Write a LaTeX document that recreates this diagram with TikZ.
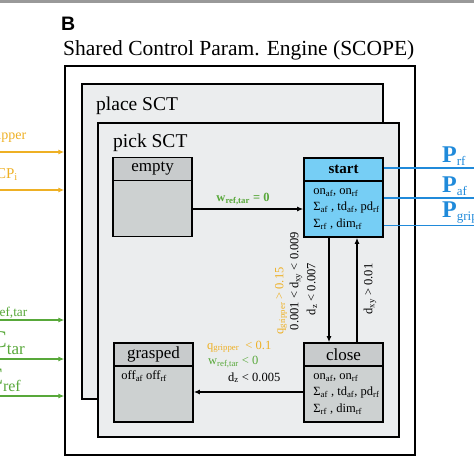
\documentclass[tikz,border=0pt]{standalone}
\usepackage{fontspec}
\setmainfont{Liberation Serif}
\newfontfamily\panelfont{Liberation Sans}
\usetikzlibrary{calc,arrows.meta,positioning}
\definecolor{ylw}{RGB}{238,176,36}
\definecolor{grn}{RGB}{88,168,58}
\definecolor{blu}{RGB}{32,138,218}
\definecolor{skyfill}{RGB}{118,206,245}
\definecolor{sctfill}{RGB}{235,237,238}
\definecolor{statefill}{RGB}{205,209,209}
\definecolor{headfill}{RGB}{200,203,204}
\newcommand{\sub}[1]{\textsubscript{#1}}
\newcommand{\lowsub}[3]{\raisebox{-#1}{\fontsize{#2}{#2}\selectfont #3}}
\newcommand{\fs}[1]{\fontsize{#1}{#1}\selectfont}

\begin{document}
\begin{tikzpicture}[x=1pt,y=-1pt,
    box/.style={draw,line width=1.3pt,inner sep=0pt},
    statebox/.style={draw,line width=1.6pt,fill=statefill,minimum width=79pt,minimum height=79pt,inner sep=0pt},
    headbox/.style={draw,line width=1.6pt,fill=headfill,minimum width=79pt,minimum height=23pt,inner sep=0pt,anchor=north,font=\fs{17}},
    bodytext/.style={anchor=base west,inner sep=0pt,font=\fs{12.5}},
    lab/.style={inner sep=0pt,font=\fs{12.5}},
    arr/.style={-{Latex[length=6pt,width=5pt]},line width=1.1pt},
    inarr/.style={-{Latex[length=6pt,width=5pt]},line width=1.3pt},
    outline/.style={line width=1.3pt,draw=blu}]
  \useasboundingbox (0,0) rectangle (474,474);
  \clip (0,0) rectangle (474,474);
  \fill[gray!80] (0,0) rectangle (474,2.5);

  \node[anchor=base west,inner sep=0pt,font=\panelfont\bfseries\fs{19.5}] (panel) at (61,30.7) {B};
  \node[anchor=base west,inner sep=0pt,font=\fs{21.5}] (title) at (63,55) {Shared Control Param. Engine (SCOPE)};

  % nested tables
  \node[box,fill=white,minimum width=350pt,minimum height=389pt] (scope) at (240,260.5) {};
  \node[box,fill=sctfill,minimum width=301pt,minimum height=315pt] (place) at (232.5,241.5) {};
  \node[anchor=base west,inner sep=0pt,font=\fs{19.5}] (placelbl) at (96,110) {place SCT};
  \node[box,fill=sctfill,minimum width=301pt,minimum height=314pt] (pick) at (248.5,280) {};
  \node[anchor=base west,inner sep=0pt,font=\fs{19.5}] (picklbl) at (113,147) {pick SCT};

  % states
  \node[statebox] (empty) at (152.5,197) {};
  \node[headbox] (emptyhd) at (empty.north) {empty};
  \node[statebox,fill=skyfill] (start) at (343.5,197.5) {};
  \node[headbox,fill=skyfill,font=\bfseries\fs{15}] (starthd) at (start.north) {start};
  \node[statebox] (grasped) at (153.5,382.5) {};
  \node[headbox] (graspedhd) at (grasped.north) {grasped};
  \node[statebox] (close) at (343.5,382.5) {};
  \node[headbox] (closehd) at (close.north) {close};

  \foreach \b in {start,close}
    \foreach \r/\txt in {0/{on\sub{af}, on\sub{rf}},1/{Σ\sub{af} , td\sub{af}, pd\sub{rf}},2/{Σ\sub{rf} , dim\sub{rf}}}
      \node[bodytext] (\b row\r) at ($(\b.north west)+(10,37+16.5*\r)$) {\txt};
  \node[bodytext] (graspedrow0) at ($(grasped.north west)+(8,37)$) {off\sub{af} off\sub{rf}};

  % transitions
  \draw[arr] ($(empty.east)+(0,12)$) -- ($(start.west)+(0,11.5)$);
  \draw[arr] ($(start.south)+(-14.5,0)$) -- ($(close.north)+(-14.5,0)$);
  \draw[arr] ($(close.north)+(13.5,0)$) -- ($(start.south)+(13.5,0)$);
  \draw[arr] ($(close.west)+(0,9.5)$) -- ($(grasped.east)+(0,9.5)$);

  \node[lab,text=grn,font=\bfseries\fs{12.5},anchor=base] (wzero) at (243,201) {w\sub{ref,tar} = 0};
  \node[lab,text=ylw,rotate=90] (qhi) at (281,301) {q\sub{gripper} > 0.15};
  \node[lab,rotate=90] (dxyrange) at (296,281) {0.001 < d\sub{xy} < 0.009};
  \node[lab,rotate=90] (dzhi) at (312,289) {d\sub{z} < 0.007};
  \node[lab,rotate=90] (dxyhi) at (370,289) {d\sub{xy} > 0.01};
  \node[lab,text=ylw,anchor=base west] (qlo) at (207,349) {q\sub{gripper}\ \ < 0.1};
  \node[lab,text=grn,anchor=base west] (wlo) at (208,364) {w\sub{ref,tar} < 0};
  \node[lab,anchor=base west] (dzlo) at (228,381) {d\sub{z} < 0.005};

  % inputs
  \coordinate (qin) at (0,152);
  \coordinate (cpin) at (0,190);
  \coordinate (win) at (0,320);
  \coordinate (ctarin) at (0,359);
  \coordinate (crefin) at (0,396);
  \draw[inarr,ylw] (qin) -- (qin -| scope.west);
  \draw[inarr,ylw] (cpin) -- (cpin -| scope.west);
  \draw[inarr,grn] (win) -- (win -| scope.west);
  \draw[inarr,grn] (ctarin) -- (ctarin -| scope.west);
  \draw[inarr,grn] (crefin) -- (crefin -| scope.west);
  \node[lab,text=ylw,font=\fs{20},anchor=base east] (qlbl) at (27,136) {q\sub{gripper}};
  \node[lab,text=ylw,font=\fs{15},anchor=base east] (cplbl) at (18,178) {CP\sub{i}};
  \node[lab,text=grn,font=\fs{19},anchor=base east] (wlbl) at (28,313) {w\sub{ref,tar}};
  \node[lab,text=grn,font=\fs{24},anchor=base east] (ctarlbl) at (25,347) {C\lowsub{7pt}{17}{tar}};
  \node[lab,text=grn,font=\fs{24},anchor=base east] (creflbl) at (21,384) {C\lowsub{7pt}{16}{ref}};

  % outputs
  \coordinate (prfout) at (474,168);
  \coordinate (pafout) at (474,198);
  \coordinate (pgripout) at (474,225.5);
  \draw[outline] (start.east |- prfout) -- (prfout);
  \draw[outline] (start.east |- pafout) -- (pafout);
  \draw[outline] (start.east |- pgripout) -- (pgripout);
  \node[lab,text=blu,font=\fs{24},anchor=base west] (prflbl) at (442,162) {\textbf{P}\lowsub{3pt}{13}{rf}};
  \node[lab,text=blu,font=\fs{24},anchor=base west] (paflbl) at (442,192) {\textbf{P}\lowsub{3pt}{13}{af}};
  \node[lab,text=blu,font=\fs{24},anchor=base west] (pgriplbl) at (442,217) {\textbf{P}\lowsub{3pt}{13}{gripper}};
\end{tikzpicture}
\end{document}
